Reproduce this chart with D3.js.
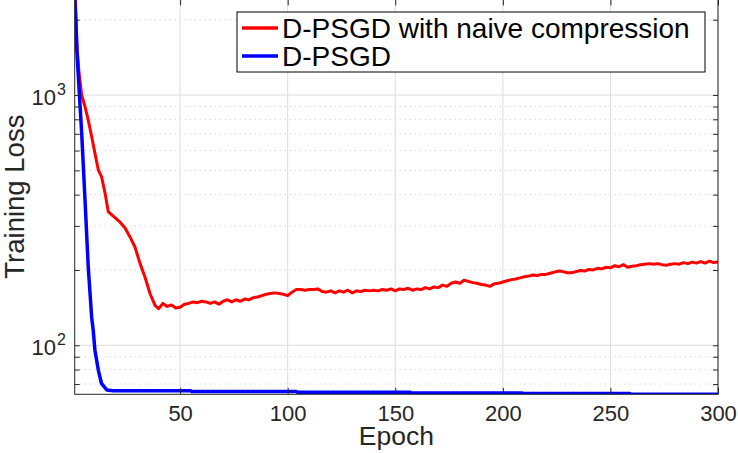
<!DOCTYPE html>
<html lang="en">
<head>
    <meta charset="UTF-8">
    <title>Training Loss vs Epoch</title>
    <script src="https://cdnjs.cloudflare.com/ajax/libs/d3/7.9.0/d3.min.js"></script>
    <style>
        body { margin: 0; background: white; }
        svg { display: block; font-family: "Liberation Sans", Arial, Helvetica, sans-serif; }
    </style>
</head>
<body>
    <svg width="738" height="453"></svg>

    <script>
        // Series
        const seriesNames = ["D-PSGD with naive compression", "D-PSGD"];
        const seriesColors = ["#ff0000", "#0000ff"];

        // red curve: steep start, then noisy and slowly rising
        const redEpoch = [1, 1.3, 2.2, 3, 4.25, 5.8, 7.3, 8.9, 10.4, 12, 13.5, 15.1, 16.6, 18.9, 22, 24.4, 26.7, 29, 31.4, 33.7, 36, 38.4,
            40, 42, 44, 46, 48, 50, 52, 54, 56, 58, 60, 62, 64, 66, 68, 70, 72, 74, 76, 78, 80, 82, 84, 86, 88, 90, 92, 94, 96, 98,
            100, 102, 104, 106, 108, 110, 112, 114, 116, 118, 120, 122, 124, 126, 128, 130, 132, 134, 136, 138, 140, 142, 144, 146, 148,
            150, 152, 154, 156, 158, 160, 162, 164, 166, 168, 170, 172, 174, 176, 178, 180, 182, 184, 186, 188, 190, 192, 194, 196, 198,
            200, 202, 204, 206, 208, 210, 212, 214, 216, 218, 220, 222, 224, 226, 228, 230, 232, 234, 236, 238, 240, 242, 244, 246, 248,
            250, 252, 254, 256, 258, 260, 262, 264, 266, 268, 270, 272, 274, 276, 278, 280, 282, 284, 286, 288, 290, 292, 294, 296, 298, 300];
        const redLoss = [2700, 2420, 1514, 1230, 1000, 898, 794, 681, 586, 501, 471, 406, 342, 328, 311, 294, 271, 247, 212, 187, 161, 144,
            140, 147, 143, 145, 141, 142, 146, 147, 149, 148, 150, 149, 147, 149, 146, 150, 152, 149, 152, 150, 153, 152, 155, 156, 158, 160, 161, 162, 161, 160,
            158, 163, 167, 167, 166, 167, 167, 168, 164, 163, 165, 162, 165, 163, 166, 162, 165, 164, 166, 165, 166, 165, 167, 166, 168,
            165, 168, 167, 169, 166, 168, 167, 170, 168, 171, 170, 174, 172, 177, 179, 177, 182, 180, 178, 177, 175, 174, 172, 176, 177,
            179, 181, 183, 184, 186, 188, 189, 191, 190, 192, 192, 194, 196, 198, 197, 195, 195, 197, 199, 198, 201, 200, 203, 202, 205,
            204, 208, 206, 210, 205, 207, 208, 210, 211, 212, 211, 212, 210, 209, 211, 212, 211, 214, 212, 215, 213, 216, 213, 217, 214, 215];

        // blue curve: fast drop, then flat with small steps
        const blueEpoch = [1, 2, 4.25, 5.8, 7.3, 8.9, 9.6, 10.4, 12, 13.5, 15.9, 18.9, 55, 55.5, 104, 104.5, 157, 157.5, 209, 209.5, 259, 259.5, 300];
        const blueLoss = [2500, 1500, 705, 380, 205, 129, 115, 95.6, 79.4, 70.2, 66.3, 65.8, 65.8, 65.3, 65.3, 64.9, 64.9, 64.5, 64.5, 64.1, 64.1, 63.8, 63.8];

        const xTicks = [50, 100, 150, 200, 250, 300];
        const yMajor = [100, 1000];
        const yMajorExp = ["2", "3"];
        const yMinor = [70, 80, 90, 200, 300, 400, 500, 600, 700, 800, 900, 2000];

        const svg = d3.select("svg");
        const width = +svg.attr("width");
        const height = +svg.attr("height");
        const margin = { top: -1, right: 20, bottom: 58.7, left: 74.7 };
        const axisColor = "#262626";

        const x = d3.scaleLinear().domain([1, 300]).range([margin.left, width - margin.right]);
        const y = d3.scaleLog().domain([63.7, 2420]).range([height - margin.bottom, margin.top]);

        const x0 = x.range()[0], x1 = x.range()[1];
        const y0 = y.range()[0], y1 = y.range()[1];

        svg.append("defs").append("clipPath").attr("id", "plot-clip")
            .append("rect")
            .attr("x", x0).attr("y", y1)
            .attr("width", x1 - x0).attr("height", y0 - y1);

        // grid: minor dotted, major solid
        svg.append("g")
            .selectAll("line")
            .data(yMinor)
            .join("line")
            .attr("x1", x0).attr("x2", x1)
            .attr("y1", d => y(d)).attr("y2", d => y(d))
            .attr("stroke", "#c4c4c4")
            .attr("stroke-width", 1)
            .attr("stroke-dasharray", "1,4");

        svg.append("g")
            .selectAll("line")
            .data(yMajor)
            .join("line")
            .attr("x1", x0).attr("x2", x1)
            .attr("y1", d => y(d)).attr("y2", d => y(d))
            .attr("stroke", "#dcdcdc")
            .attr("stroke-width", 1);

        svg.append("g")
            .selectAll("line")
            .data(xTicks)
            .join("line")
            .attr("x1", d => x(d)).attr("x2", d => x(d))
            .attr("y1", y1).attr("y2", y0)
            .attr("stroke", "#dcdcdc")
            .attr("stroke-width", 1);

        // curves
        const line = d3.line()
            .x(d => x(d[0]))
            .y(d => y(d[1]));

        const redData = redEpoch.map((e, i) => [e, redLoss[i]]);
        const blueData = blueEpoch.map((e, i) => [e, blueLoss[i]]);

        const lines = svg.append("g").attr("clip-path", "url(#plot-clip)");
        lines.append("path")
            .datum(redData)
            .attr("fill", "none")
            .attr("stroke", seriesColors[0])
            .attr("stroke-width", 3)
            .attr("stroke-linejoin", "round")
            .attr("d", line);
        lines.append("path")
            .datum(blueData)
            .attr("fill", "none")
            .attr("stroke", seriesColors[1])
            .attr("stroke-width", 3.5)
            .attr("stroke-linejoin", "round")
            .attr("d", line);

        // axes, ticks pointing inward on all four sides
        const noDomain = g => g.select(".domain").remove();
        const styleTicks = g => g.selectAll(".tick line").attr("stroke", axisColor);

        svg.append("g")
            .attr("transform", `translate(0,${y0})`)
            .call(d3.axisBottom(x).tickValues(xTicks).tickSize(-6.5).tickPadding(11).tickFormat(d3.format("d")))
            .call(noDomain).call(styleTicks)
            .call(g => g.selectAll("text")
                .attr("fill", axisColor)
                .attr("font-size", "22px")
                .attr("font-family", "'Liberation Sans', Arial, sans-serif"));

        svg.append("g")
            .attr("transform", `translate(0,${y1})`)
            .call(d3.axisTop(x).tickValues(xTicks).tickSize(-6.5).tickFormat(""))
            .call(noDomain).call(styleTicks);

        svg.append("g")
            .attr("transform", `translate(${x0},0)`)
            .call(d3.axisLeft(y).tickValues(yMajor.concat(yMinor)).tickSize(-5).tickFormat(""))
            .call(noDomain).call(styleTicks);

        svg.append("g")
            .attr("transform", `translate(${x1},0)`)
            .call(d3.axisRight(y).tickValues(yMajor.concat(yMinor)).tickSize(-5).tickFormat(""))
            .call(noDomain).call(styleTicks);

        // y labels as 10^n
        const yLabels = svg.append("g")
            .selectAll("text")
            .data(yMajor)
            .join("text")
            .attr("fill", axisColor)
            .attr("text-anchor", "end")
            .attr("x", 66)
            .attr("y", d => y(d) + 10);
        yLabels.append("tspan")
            .attr("font-size", "22px")
            .text("10");
        yLabels.append("tspan")
            .attr("font-size", "16px")
            .attr("dx", 1)
            .attr("dy", -10)
            .text((d, i) => yMajorExp[i]);

        // plot box
        svg.append("rect")
            .attr("x", x0).attr("y", y1)
            .attr("width", x1 - x0).attr("height", y0 - y1)
            .attr("fill", "none")
            .attr("stroke", axisColor)
            .attr("stroke-width", 1);

        // axis titles
        svg.append("text")
            .attr("x", (x0 + x1) / 2)
            .attr("y", 445)
            .attr("text-anchor", "middle")
            .attr("font-size", "26.5px")
            .attr("fill", axisColor)
            .text("Epoch");

        svg.append("text")
            .attr("transform", `translate(24,${(y0 + y1) / 2}) rotate(-90)`)
            .attr("text-anchor", "middle")
            .attr("font-size", "27.5px")
            .attr("fill", axisColor)
            .text("Training Loss");

        // legend
        const legend = svg.append("g");
        legend.append("rect")
            .attr("x", 237).attr("y", 12)
            .attr("width", 468).attr("height", 60)
            .attr("fill", "white")
            .attr("stroke", "#000")
            .attr("stroke-width", 1);

        const rows = legend.selectAll("g.row")
            .data(seriesNames)
            .join("g")
            .attr("class", "row")
            .attr("transform", (d, i) => `translate(0,${28 + i * 28})`);
        rows.append("line")
            .attr("x1", 242).attr("x2", 278)
            .attr("y1", 0).attr("y2", 0)
            .attr("stroke", (d, i) => seriesColors[i])
            .attr("stroke-width", 3.5);
        rows.append("text")
            .attr("x", 282)
            .attr("y", 9.5)
            .attr("font-size", "28px")
            .attr("fill", "#000")
            .text(d => d);
    </script>
</body>
</html>
